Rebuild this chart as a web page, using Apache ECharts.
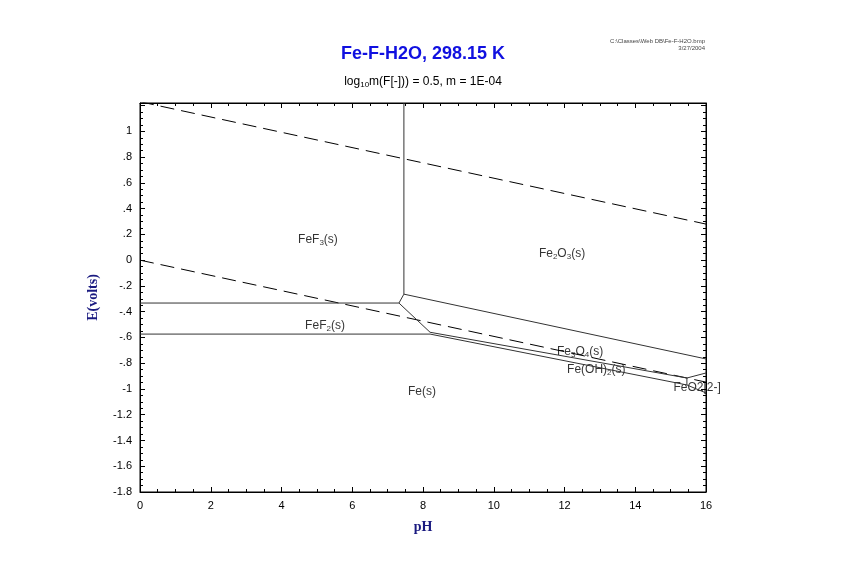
<!DOCTYPE html>
<html>
<head>
<meta charset="UTF-8">
<title>Fe-F-H2O</title>
<script src="https://cdn.jsdelivr.net/npm/echarts@6/dist/echarts.min.js"></script>
<style>
  html, body { margin: 0; background: #fff; }
  #main { width: 846px; height: 576px; }
</style>
</head>
<body>
<div id="main"></div>
<script>
// boundaries of the Pourbaix diagram, [pH, E]
var waterO2 = [[0, 1.23], [16, 0.28]];
var waterH2 = [[0, 0], [16, -0.947]];
var solidLines = [
  [[7.46, 1.22], [7.46, -0.264]],
  [[0, -0.333], [7.32, -0.333], [7.46, -0.264]],
  [[7.46, -0.264], [16, -0.767]],
  [[0, -0.574], [8.2, -0.574]],
  [[7.32, -0.333], [8.2, -0.56], [15.46, -0.915], [16, -0.876]],
  [[8.2, -0.574], [15.46, -0.969], [16, -1.031]],
  [[15.46, -0.915], [15.46, -0.969]]
];
var labels = [
  { pos: [5.03, 0.155], text: 'FeF{s|3}(s)' },
  { pos: [11.93, 0.047], text: 'Fe{s|2}O{s|3}(s)' },
  { pos: [5.23, -0.51], text: 'FeF{s|2}(s)' },
  { pos: [12.44, -0.71], text: 'Fe{s|3}O{s|4}(s)' },
  { pos: [12.9, -0.85], text: 'Fe(OH){s|2}(s)' },
  { pos: [15.75, -0.99], text: 'FeO2[2-]' },
  { pos: [7.97, -1.02], text: 'Fe(s)' }
];

var fmt = function (v) {
  if (v > 1.1) return '';
  var s = (Math.round(v * 10) / 10).toString();
  return s.replace(/^(-?)0\./, '$1.');
};

var series = [];
series.push({ type: 'line', data: waterO2, symbol: 'none', silent: true,
  lineStyle: { color: '#000', width: 1, type: [14, 7] } });
series.push({ type: 'line', data: waterH2, symbol: 'none', silent: true,
  lineStyle: { color: '#000', width: 1, type: [14, 7] } });
solidLines.forEach(function (d) {
  series.push({ type: 'line', data: d, symbol: 'none', silent: true,
    lineStyle: { color: '#333', width: 1 } });
});
series.push({
  type: 'scatter', symbolSize: 0, silent: true,
  data: labels.map(function (l) { return { value: l.pos, name: l.text }; }),
  label: {
    show: true, position: 'inside', color: '#000', fontSize: 12,
    fontFamily: 'Arial, Liberation Sans, sans-serif',
    formatter: function (p) { return p.name; },
    rich: { s: { fontSize: 8, verticalAlign: 'bottom', padding: [6, 0, 0, 0] } }
  }
});

var axisCommon = {
  axisLine: { onZero: false, lineStyle: { color: '#000' } },
  axisTick: { inside: true, length: 5, lineStyle: { color: '#000' } },
  minorTick: { show: true, splitNumber: 4, length: 3, lineStyle: { color: '#000' } },
  splitLine: { show: false }
};

var chart = echarts.init(document.getElementById('main'));
chart.setOption({
  animation: false,
  title: [
    { text: 'Fe-F-H2O, 298.15 K', left: 'center', top: 40,
      textStyle: { color: '#1010e0', fontSize: 18, fontWeight: 'bold', fontFamily: 'Arial, Liberation Sans, sans-serif' } },
    { text: 'log{s|10}m(F[-])) = 0.5, m = 1E-04', left: 'center', top: 70,
      textStyle: { color: '#000', fontSize: 12, fontWeight: 'normal', fontFamily: 'Arial, Liberation Sans, sans-serif',
        rich: { s: { fontSize: 8, verticalAlign: 'bottom', padding: [6, 0, 0, 0] } } } }
  ],
  graphic: [
    { type: 'text', right: 141, top: 38,
      style: { text: 'C:\\Classes\\Web DB\\Fe-F-H2O.bmp', fill: '#444', fontSize: 6 } },
    { type: 'text', right: 141, top: 45,
      style: { text: '3/27/2004', fill: '#444', fontSize: 6 } }
  ],
  grid: { left: 140, right: 140, top: 103, bottom: 84, show: true, borderColor: '#000', borderWidth: 1 },
  xAxis: [
    Object.assign({ type: 'value', min: 0, max: 16, interval: 2, position: 'bottom',
      name: 'pH', nameLocation: 'middle', nameGap: 28,
      nameTextStyle: { color: '#1a1a80', fontFamily: 'Liberation Serif, serif', fontWeight: 'bold', fontSize: 14 },
      axisLabel: { color: '#000', fontSize: 11, fontFamily: 'Arial, Liberation Sans, sans-serif' } }, axisCommon),
    Object.assign({ type: 'value', min: 0, max: 16, interval: 2, position: 'top',
      axisLabel: { show: false } }, axisCommon)
  ],
  yAxis: [
    Object.assign({ type: 'value', min: -1.8, max: 1.22, interval: 0.2, position: 'left',
      name: 'E(volts)', nameLocation: 'middle', nameGap: 40, nameRotate: 90,
      nameTextStyle: { color: '#1a1a80', fontFamily: 'Liberation Serif, serif', fontWeight: 'bold', fontSize: 14 },
      axisLabel: { color: '#000', fontSize: 11, fontFamily: 'Arial, Liberation Sans, sans-serif',
        showMaxLabel: false, formatter: fmt } }, axisCommon),
    Object.assign({ type: 'value', min: -1.8, max: 1.22, interval: 0.2, position: 'right',
      axisLabel: { show: false } }, axisCommon)
  ],
  series: series
});
</script>
</body>
</html>
